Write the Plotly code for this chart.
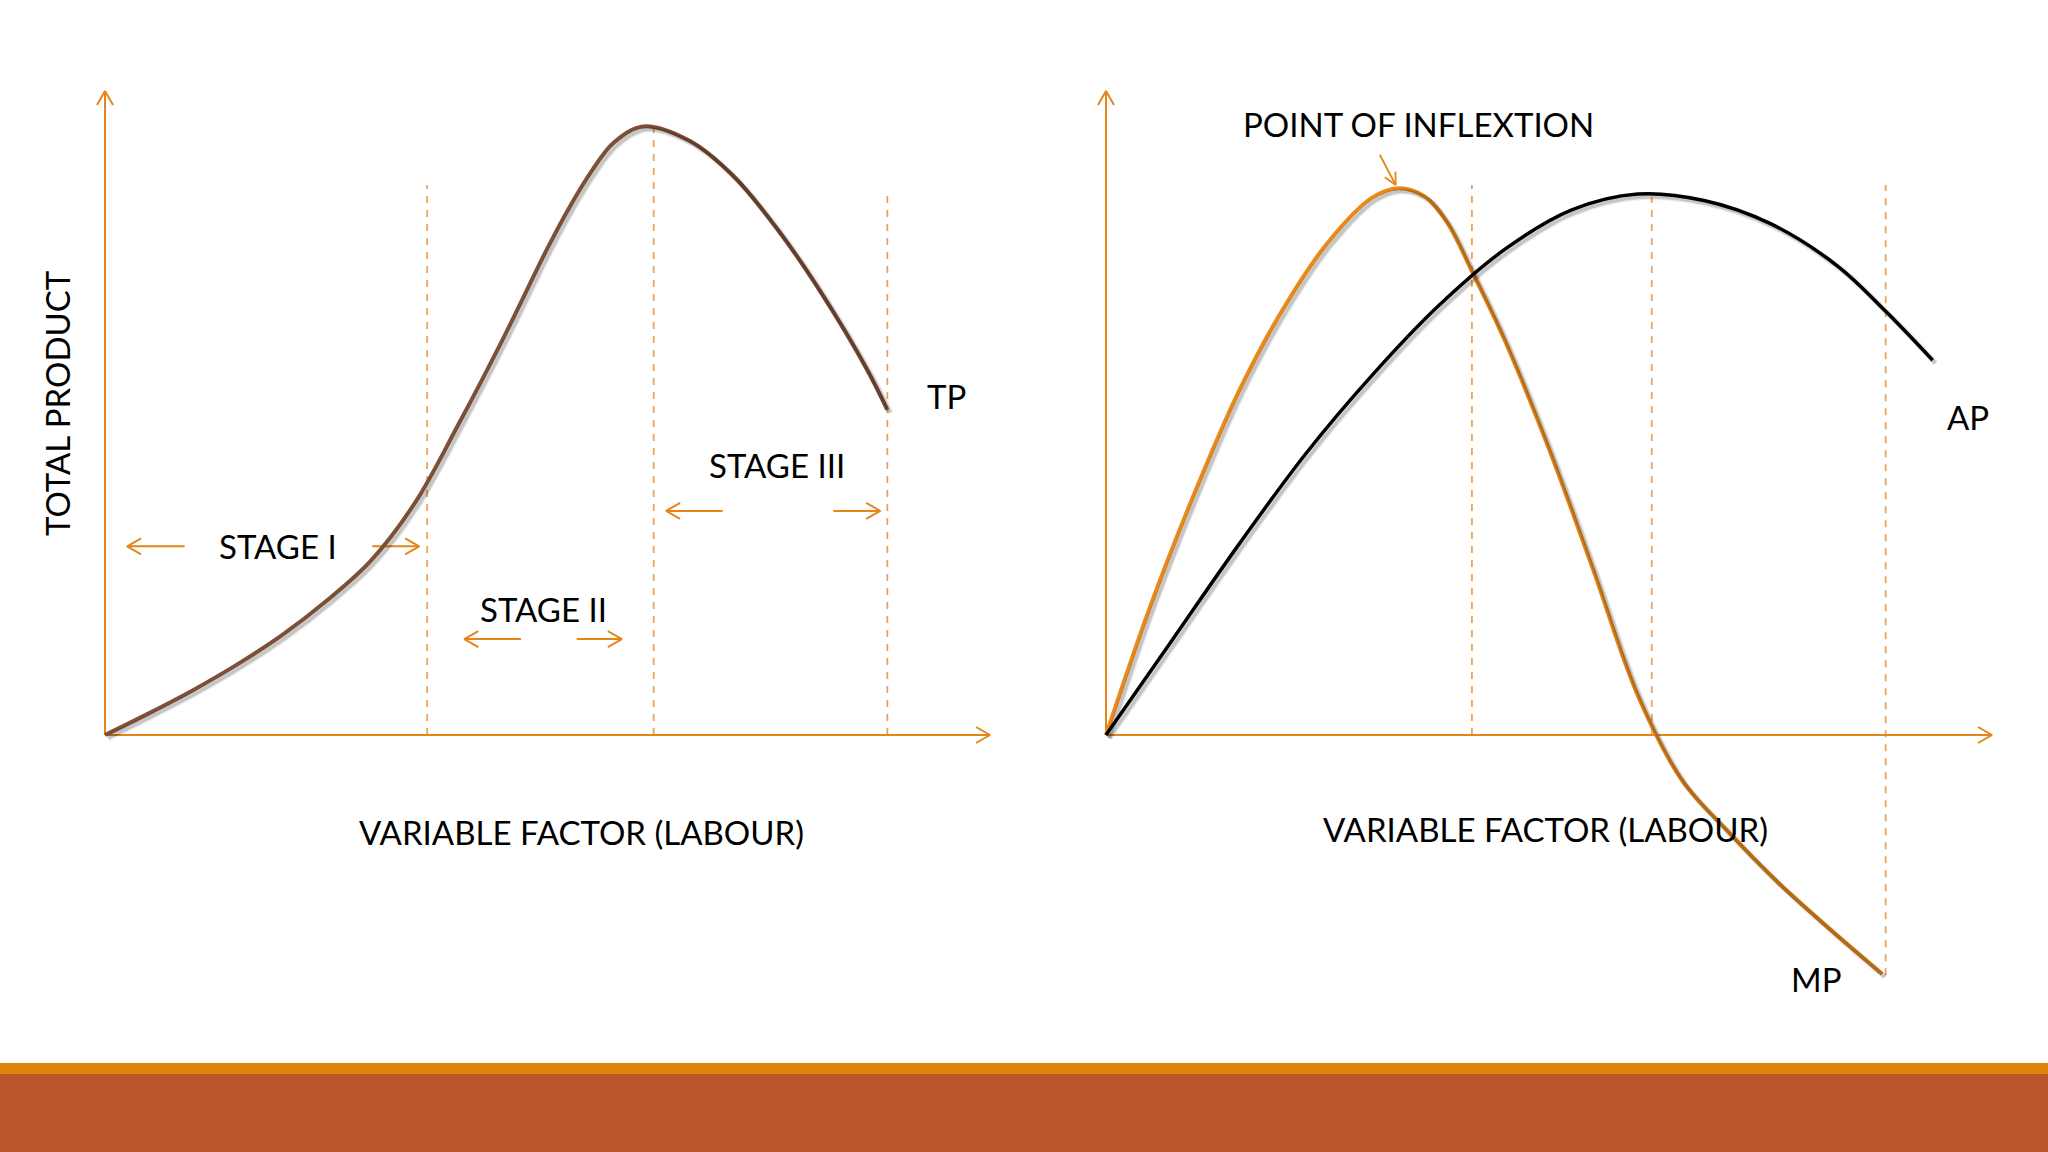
import plotly.graph_objects as go

W, H = 2048, 1152

# ---------------- data ----------------
# Left panel: Total Product curve
tp_x = [0, 5, 10, 15, 20, 25, 30, 35, 40, 45, 50, 52.5, 55, 57.5, 60.8, 66, 71, 76, 81, 86, 88.4]
tp_y = [0, 3.4, 7.0, 11.0, 15.5, 20.8, 27.0, 36.0, 48.4, 61.6, 75.6, 82.0, 87.6, 92.0, 94.5, 92.3, 86.8, 78.5, 68.5, 57.0, 50.5]

# Right panel: Marginal Product and Average Product curves
mp_x = [0, 5, 10, 15, 20, 25, 30, 33, 36, 38.5, 41.3, 45, 50, 55, 60, 65, 70, 76, 82, 87.6]
mp_y = [0, 20.0, 37.6, 53.4, 66.2, 76.4, 83.4, 84.9, 83.6, 79.6, 72.0, 61.3, 44.4, 25.6, 6.2, -7.0, -14.7, -23.1, -30.5, -37.1]
ap_x = [0, 7.5, 15, 22.5, 30, 37.5, 45, 52.5, 60, 67.5, 75, 82.5, 88, 93.3]
ap_y = [0, 14.8, 29.6, 43.6, 55.8, 66.6, 75.4, 81.5, 84.0, 83.0, 79.4, 72.9, 65.8, 58.2]

# Dashed stage boundaries
left_div_x = [36.4, 62.0, 88.4]
left_div_top = [85.4, 94.4, 84.8]
left_div_bot = [0, 0, 0]
right_div_x = [41.3, 61.6, 88.0]
right_div_top = [85.4, 83.5, 85.4]
right_div_bot = [0, 0, -37.3]

# Stage arrows: (tail x, tip x, y)
stage_arrows = [
    (9.0, 2.5, 29.3), (30.2, 35.5, 29.3),
    (47.0, 40.6, 14.9), (53.3, 58.4, 14.9),
    (69.8, 63.4, 34.8), (82.3, 87.6, 34.8),
]
# Labels inside left panel
left_labels = ["STAGE I", "STAGE II", "STAGE III", "TP"]
left_label_x = [19.5, 49.5, 75.9, 95.1]
left_label_y = [29.3, 19.6, 41.9, 52.6]
# Labels in right panel
right_labels = ["POINT OF INFLEXTION", "AP", "MP"]
right_label_x = [35.3, 97.3, 80.1]
right_label_y = [94.9, 49.4, -37.9]
# Inflexion pointer (tail, tip)
infl_tail = (30.9, 90.1)
infl_tip = (32.7, 85.4)

AXIS_LEN = 100
Y_AXIS_TOP = 100
X_RANGE = [-4, 104]
Y_RANGE = [-42, 103]

# ---------------- styles ----------------
ORANGE = "#E4861A"
DASH_ORANGE = "#EDA457"
BROWN = "#7E5038"
MP_COL = "#E98A1C"
FONT = "Lato"
FS = 33

# pixel geometry: origins and scales of the two panels
L_ORIG_X, R_ORIG_X, ORIG_Y = 105, 1106, 735
sx_l, sx_r, sy = 8.85, 8.86, 6.44

def xdom(orig, sx, shift=0):
    return [(orig + X_RANGE[0] * sx + shift) / W, (orig + X_RANGE[1] * sx + shift) / W]

def ydom(shift=0):
    bot = ORIG_Y - Y_RANGE[0] * sy + shift
    top = ORIG_Y - Y_RANGE[1] * sy + shift
    return [(H - bot) / H, (H - top) / H]

SH = 3

fig = go.Figure()

def line(x, y, color, width, xa, ya, dash=None, shape="linear"):
    fig.add_trace(go.Scatter(
        x=x, y=y, mode="lines", xaxis=xa, yaxis=ya,
        line=dict(color=color, width=width, dash=dash, shape=shape, smoothing=1.0),
        hoverinfo="skip", showlegend=False))

def vhead(tail, tip, sx, L=14, Wd=8):
    dx = (tip[0] - tail[0]) * sx
    dy = (tip[1] - tail[1]) * sy
    n = (dx * dx + dy * dy) ** 0.5
    ux, uy = dx / n, dy / n
    bx, by = tip[0] * sx - L * ux, tip[1] * sy - L * uy
    px, py = -uy, ux
    xs = [(bx + Wd * px) / sx, tip[0], (bx - Wd * px) / sx]
    ys = [(by + Wd * py) / sy, tip[1], (by - Wd * py) / sy]
    return xs, ys

def arrow(tail, tip, sx, xa, ya, color, width, L=14, Wd=8):
    line([tail[0], tip[0]], [tail[1], tip[1]], color, width, xa, ya)
    hx, hy = vhead(tail, tip, sx, L, Wd)
    line(hx, hy, color, width, xa, ya)

# ---- shadows (same data on axes shifted a few px) ----
for w, a in [(7, 0.04), (5, 0.08), (3.5, 0.12)]:
    line(tp_x, tp_y, f"rgba(0,0,0,{a})", w, "x3", "y3", shape="spline")
    line(mp_x, mp_y, f"rgba(0,0,0,{a})", w, "x4", "y4", shape="spline")
    line(ap_x, ap_y, f"rgba(0,0,0,{a})", w, "x4", "y4", shape="spline")

# ---- dashed stage lines ----
for xv, t, b in zip(left_div_x, left_div_top, left_div_bot):
    line([xv, xv], [b, t], DASH_ORANGE, 1.8, "x", "y", dash="7px,7px")
for xv, t, b in zip(right_div_x, right_div_top, right_div_bot):
    line([xv, xv], [b, t], DASH_ORANGE, 1.8, "x2", "y2", dash="7px,7px")

# ---- axes with open arrowheads ----
for xa, ya, sx in [("x", "y", sx_l), ("x2", "y2", sx_r)]:
    arrow((0, 0), (AXIS_LEN, 0), sx, xa, ya, ORANGE, 2, L=14, Wd=8)
    arrow((0, 0), (0, Y_AXIS_TOP), sx, xa, ya, ORANGE, 2, L=14, Wd=8)

# ---- stage arrows ----
for tail_x, tip_x, yv in stage_arrows:
    arrow((tail_x, yv), (tip_x, yv), sx_l, "x", "y", ORANGE, 2, L=14, Wd=8)

# ---- inflexion pointer ----
arrow(infl_tail, infl_tip, sx_r, "x2", "y2", ORANGE, 1.8, L=12, Wd=6)

# ---- curves ----
line(tp_x, tp_y, BROWN, 4, "x", "y", shape="spline")
line(mp_x, mp_y, MP_COL, 4, "x2", "y2", shape="spline")
line(ap_x, ap_y, "#000000", 3.5, "x2", "y2", shape="spline")

# ---- text ----
ann = []
for t, xv, yv in zip(left_labels, left_label_x, left_label_y):
    ann.append(dict(text=t, x=xv, y=yv, xref="x", yref="y", showarrow=False,
                    xanchor="center", yanchor="middle"))
for t, xv, yv in zip(right_labels, right_label_x, right_label_y):
    ann.append(dict(text=t, x=xv, y=yv, xref="x2", yref="y2", showarrow=False,
                    xanchor="center", yanchor="middle"))
ann.append(dict(text="VARIABLE FACTOR (LABOUR)", x=581 / W, y=(H - 832) / H,
                xref="paper", yref="paper", showarrow=False, xanchor="center", yanchor="middle"))
ann.append(dict(text="VARIABLE FACTOR (LABOUR)", x=1545 / W, y=(H - 829) / H,
                xref="paper", yref="paper", showarrow=False, xanchor="center", yanchor="middle"))
ann.append(dict(text="TOTAL PRODUCT", x=57 / W, y=(H - 403) / H, textangle=-90,
                xref="paper", yref="paper", showarrow=False, xanchor="center", yanchor="middle"))
for a in ann:
    a["font"] = dict(family=FONT, size=FS, color="#000000")

# ---- bottom band ----
shapes = [
    dict(type="rect", xref="paper", yref="paper", x0=0, x1=1, y0=(H - 1074) / H, y1=(H - 1063) / H,
         fillcolor="#E2820F", line=dict(width=0), layer="below"),
    dict(type="rect", xref="paper", yref="paper", x0=0, x1=1, y0=0, y1=(H - 1074) / H,
         fillcolor="#B9572B", line=dict(width=0), layer="below"),
]

ax = dict(visible=False, fixedrange=True)
fig.update_layout(
    width=W, height=H, margin=dict(l=0, r=0, t=0, b=0),
    paper_bgcolor="#FFFFFF", plot_bgcolor="rgba(0,0,0,0)",
    showlegend=False, annotations=ann, shapes=shapes,
    xaxis=dict(domain=xdom(L_ORIG_X, sx_l), range=X_RANGE, anchor="y", **ax),
    yaxis=dict(domain=ydom(), range=Y_RANGE, anchor="x", **ax),
    xaxis2=dict(domain=xdom(R_ORIG_X, sx_r), range=X_RANGE, anchor="y2", **ax),
    yaxis2=dict(domain=ydom(), range=Y_RANGE, anchor="x2", **ax),
    xaxis3=dict(domain=xdom(L_ORIG_X, sx_l, SH), range=X_RANGE, anchor="y3", **ax),
    yaxis3=dict(domain=ydom(SH), range=Y_RANGE, anchor="x3", **ax),
    xaxis4=dict(domain=xdom(R_ORIG_X, sx_r, SH), range=X_RANGE, anchor="y4", **ax),
    yaxis4=dict(domain=ydom(SH), range=Y_RANGE, anchor="x4", **ax),
)

fig.write_html("out.html",
               config={"displayModeBar": False},
               post_script="document.body.style.margin='0';document.body.style.overflow='hidden';")
